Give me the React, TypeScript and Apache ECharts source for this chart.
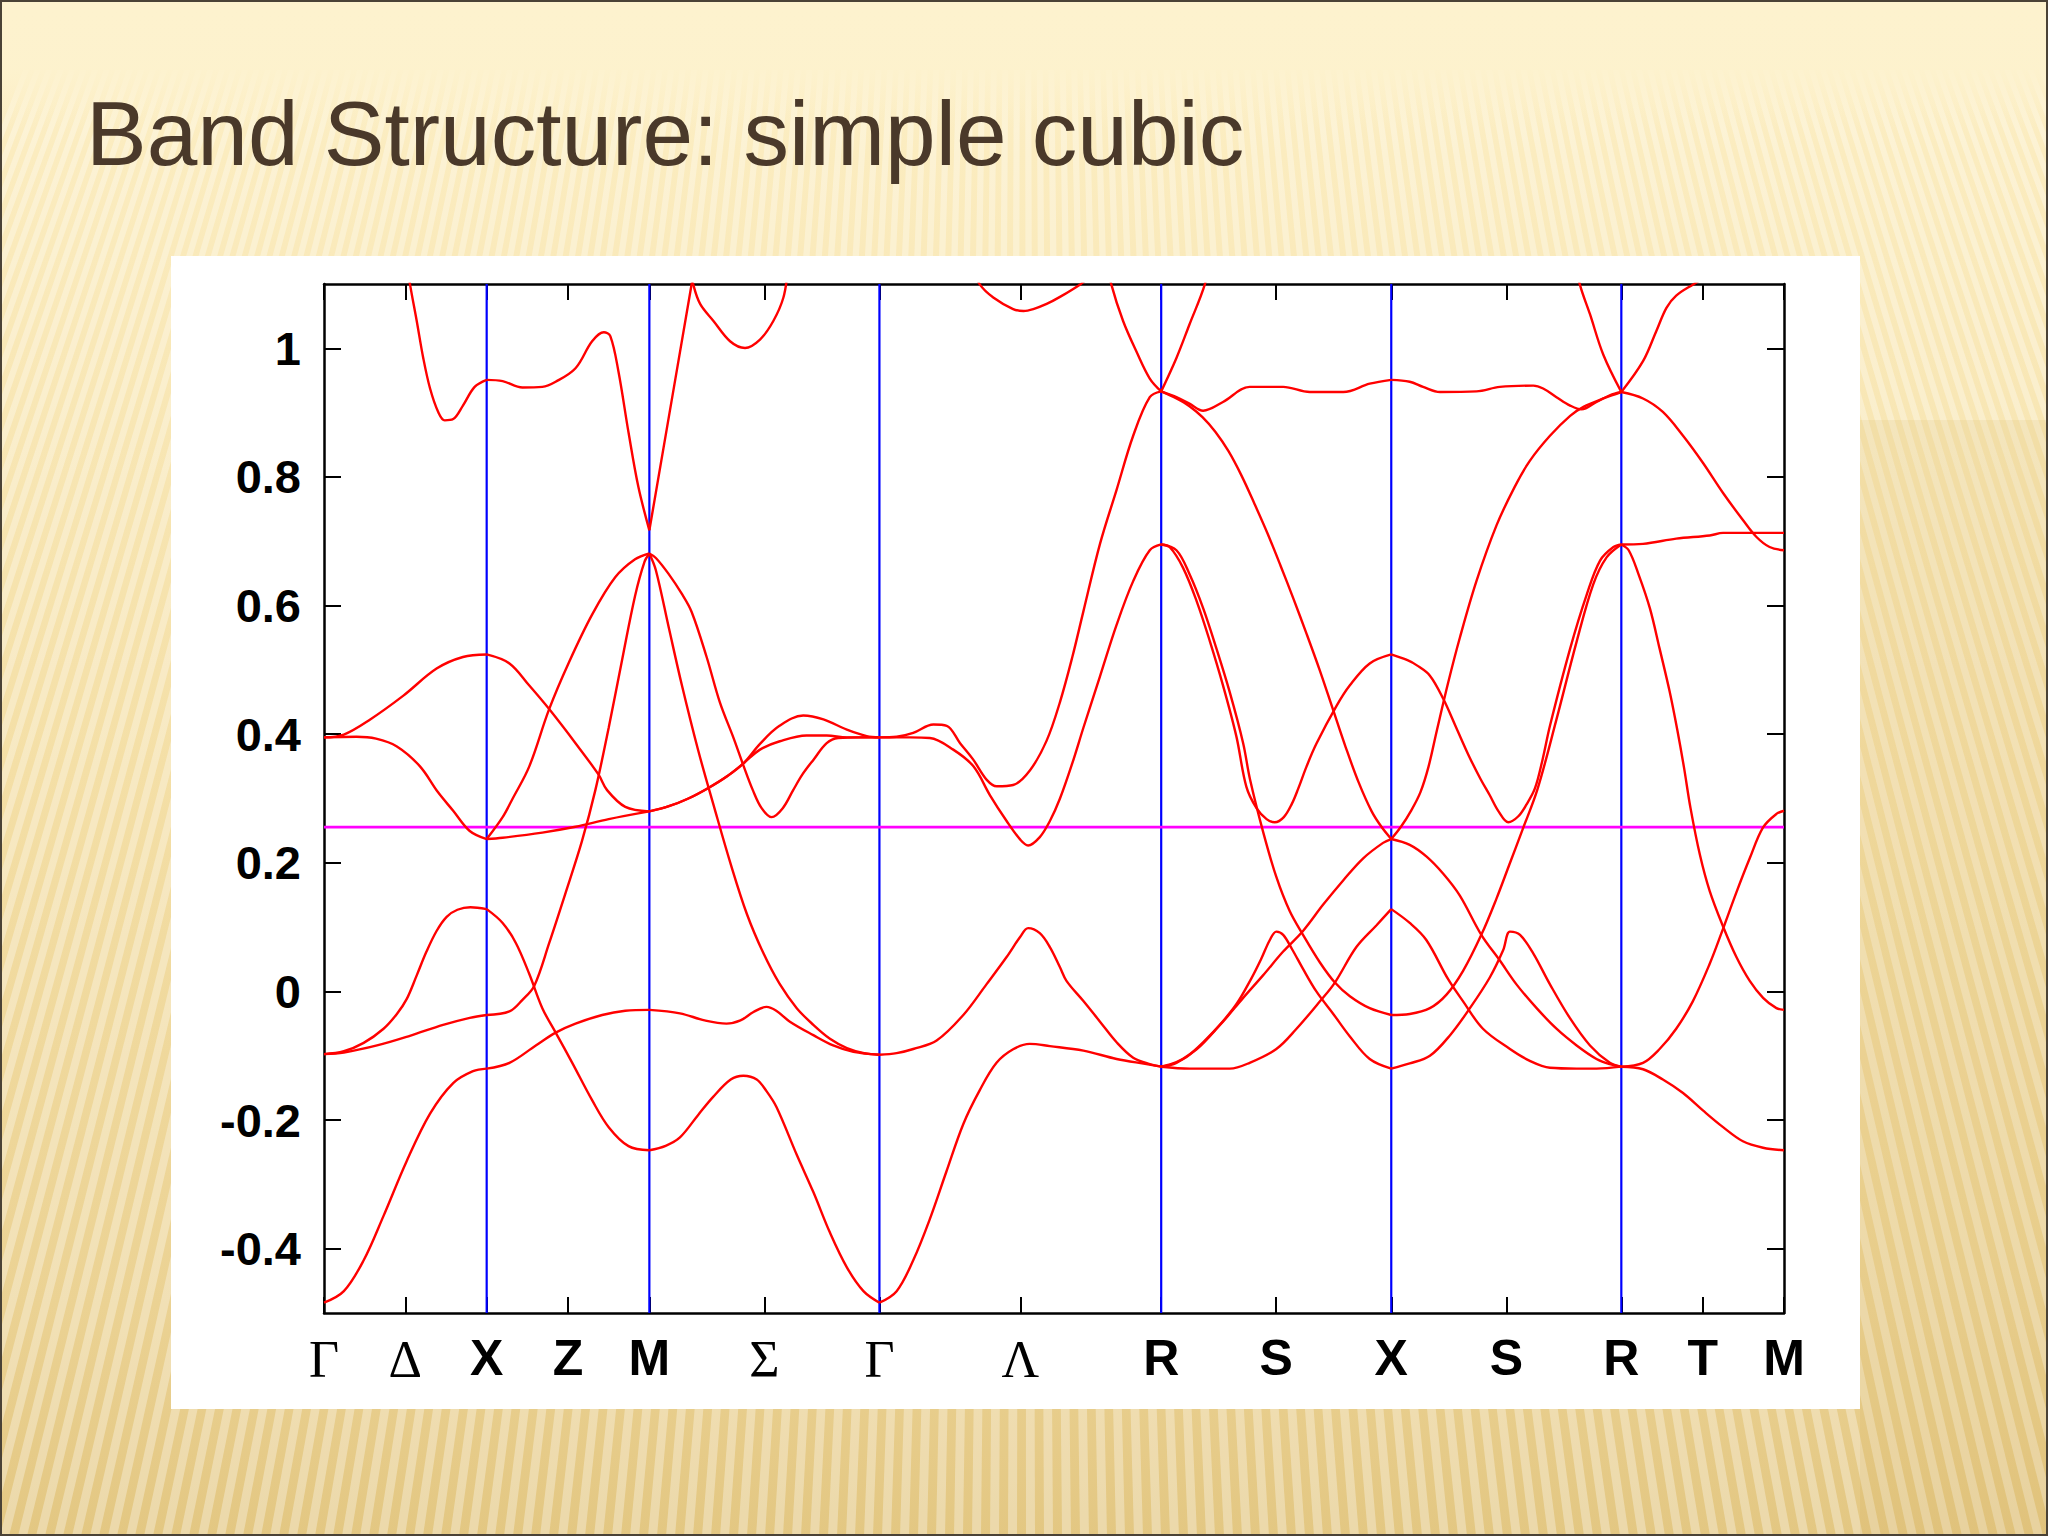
import React, { useEffect, useRef } from "react";
import * as echarts from "echarts";

// ---------- axis definitions ----------
const kMax = 4.4873;
const eMin = -0.5;
const eMax = 1.1;
const tickPositions = [0, 0.25, 0.5, 0.75, 1.0, 1.3536, 1.7071, 2.1401, 2.5731, 2.9267, 3.2802, 3.6338, 3.9873, 4.2373, 4.4873];
const tickLabels = ["Γ", "Δ", "X", "Z", "M", "Σ", "Γ", "Λ", "R", "S", "X", "S", "R", "T", "M"];
const greekLabels = ["Γ", "Δ", "Σ", "Λ"];
const symmetryLines = [0.5, 1.0, 1.7071, 2.5731, 3.2802, 3.9873];
const yTicks = [-0.4, -0.2, 0, 0.2, 0.4, 0.6, 0.8, 1];
const fermiLevel = 0.2555;
const titleText = "Band Structure: simple cubic";

// ---------- bands, segment by segment ----------
const bandsGammaX = [
  [[0, -0.484], [0.061, -0.466], [0.122, -0.418], [0.183, -0.349], [0.254, -0.264], [0.326, -0.19], [0.397, -0.1425], [0.458, -0.124], [0.5, -0.12]],
  [[0, -0.0975], [0.061, -0.095], [0.163, -0.084], [0.264, -0.069], [0.366, -0.052], [0.448, -0.041], [0.5, -0.0366]],
  [[0, -0.0975], [0.061, -0.093], [0.122, -0.08], [0.183, -0.058], [0.224, -0.035], [0.254, -0.012], [0.285, 0.025], [0.315, 0.062], [0.346, 0.094], [0.377, 0.116], [0.41, 0.127], [0.45, 0.131], [0.5, 0.128]],
  [[0, 0.395], [0.061, 0.3995], [0.142, 0.423], [0.244, 0.46], [0.346, 0.502], [0.427, 0.52], [0.5, 0.524]],
  [[0, 0.395], [0.1, 0.396], [0.16, 0.393], [0.224, 0.381], [0.295, 0.35], [0.35, 0.31], [0.397, 0.281], [0.448, 0.2495], [0.5, 0.237]],
  [[0.252, 1.14], [0.2645, 1.099], [0.285, 1.0425], [0.305, 0.985], [0.326, 0.9375], [0.351, 0.901], [0.371, 0.888], [0.397, 0.89], [0.427, 0.911], [0.463, 0.94], [0.5, 0.951]],
];

const bandsXM = [
  [[0.5, -0.12], [0.57, -0.111], [0.651, -0.084], [0.712, -0.064], [0.773, -0.05], [0.855, -0.0366], [0.926, -0.03], [1, -0.0286]],
  [[0.5, 0.128], [0.549, 0.1065], [0.59, 0.075], [0.631, 0.027], [0.671, -0.026], [0.712, -0.064], [0.763, -0.111], [0.824, -0.169], [0.875, -0.211], [0.936, -0.2405], [1, -0.247]],
  [[0.5, -0.0366], [0.57, -0.031], [0.61, -0.013], [0.646, 0.0085], [0.692, 0.075], [0.743, 0.154], [0.793, 0.234], [0.834, 0.313], [0.875, 0.41], [0.916, 0.515], [0.956, 0.615], [0.985, 0.668], [1, 0.681]],
  [[0.5, 0.237], [0.549, 0.271], [0.58, 0.3], [0.631, 0.35], [0.692, 0.439], [0.753, 0.512], [0.824, 0.586], [0.895, 0.644], [0.956, 0.672], [1, 0.681]],
  [[0.5, 0.524], [0.57, 0.51], [0.631, 0.4756], [0.692, 0.439], [0.773, 0.386], [0.844, 0.337], [0.87, 0.313], [0.926, 0.287], [1, 0.28]],
  [[0.5, 0.237], [0.549, 0.239], [0.671, 0.247], [0.773, 0.256], [0.875, 0.268], [1, 0.28]],
  [[0.5, 0.951], [0.549, 0.949], [0.61, 0.939], [0.671, 0.94], [0.712, 0.948], [0.773, 0.969], [0.824, 1.011], [0.86, 1.025], [0.88, 1.019], [0.905, 0.964], [0.936, 0.869], [0.966, 0.785], [1, 0.717]],
];

const bandsMGamma = [
  [[1, 0.717], [1.13, 1.1], [1.14, 1.13]],
  [[1.128, 1.12], [1.135, 1.099], [1.156, 1.069], [1.197, 1.0425], [1.248, 1.011], [1.294, 1.0005], [1.34, 1.0136], [1.381, 1.0425], [1.412, 1.079], [1.425, 1.12]],
  [[1, 0.681], [1.02, 0.674], [1.058, 0.65], [1.1, 0.618], [1.13, 0.59], [1.176, 0.52], [1.217, 0.449], [1.258, 0.395], [1.29, 0.35], [1.318, 0.313], [1.345, 0.285], [1.376, 0.271], [1.41, 0.285], [1.442, 0.313], [1.47, 0.337], [1.504, 0.36], [1.545, 0.386], [1.58, 0.394], [1.65, 0.395], [1.7071, 0.395]],
  [[1, 0.681], [1.02, 0.655], [1.06, 0.565], [1.1, 0.476], [1.15, 0.375], [1.2, 0.285], [1.25, 0.198], [1.3, 0.12], [1.35, 0.06], [1.4, 0.012], [1.453, -0.026], [1.504, -0.052], [1.555, -0.0736], [1.607, -0.088], [1.66, -0.096], [1.7071, -0.0985]],
  [[1, 0.28], [1.06, 0.288], [1.12, 0.3], [1.18, 0.316], [1.24, 0.335], [1.29, 0.355], [1.34, 0.385], [1.4, 0.413], [1.473, 0.429], [1.535, 0.423], [1.607, 0.407], [1.668, 0.397], [1.7071, 0.395]],
  [[1, 0.28], [1.06, 0.288], [1.12, 0.3], [1.18, 0.316], [1.24, 0.335], [1.29, 0.355], [1.34, 0.376], [1.401, 0.389], [1.483, 0.398], [1.545, 0.398], [1.607, 0.395], [1.7071, 0.395]],
  [[1, -0.0286], [1.094, -0.034], [1.17, -0.045], [1.237, -0.05], [1.28, -0.045], [1.32, -0.032], [1.36, -0.024], [1.39, -0.03], [1.432, -0.047], [1.504, -0.068], [1.565, -0.084], [1.627, -0.094], [1.7071, -0.0985]],
  [[1, -0.247], [1.05, -0.24], [1.094, -0.227], [1.15, -0.192], [1.196, -0.164], [1.25, -0.137], [1.289, -0.131], [1.33, -0.137], [1.36, -0.155], [1.391, -0.18], [1.453, -0.254], [1.504, -0.312], [1.555, -0.375], [1.607, -0.429], [1.658, -0.466], [1.7071, -0.484]],
];

const bandsGammaR = [
  [[1.7071, -0.484], [1.76, -0.466], [1.811, -0.418], [1.862, -0.354], [1.913, -0.28], [1.965, -0.206], [2.016, -0.153], [2.067, -0.111], [2.118, -0.09], [2.169, -0.0816], [2.231, -0.085], [2.334, -0.092], [2.436, -0.105], [2.528, -0.113], [2.5731, -0.117]],
  [[1.7071, -0.0985], [1.76, -0.096], [1.811, -0.0895], [1.883, -0.0763], [1.965, -0.0366], [2.036, 0.011], [2.098, 0.0535], [2.14, 0.085], [2.164, 0.0985], [2.2, 0.0906], [2.231, 0.069], [2.262, 0.0376], [2.282, 0.0164], [2.334, -0.015], [2.385, -0.047], [2.436, -0.079], [2.487, -0.103], [2.538, -0.113], [2.5731, -0.117]],
  [[1.7071, 0.395], [1.76, 0.396], [1.811, 0.402], [1.873, 0.415], [1.914, 0.413], [1.955, 0.386], [1.996, 0.36], [2.037, 0.329], [2.068, 0.319], [2.118, 0.321], [2.17, 0.344], [2.221, 0.39], [2.262, 0.45], [2.3, 0.52], [2.334, 0.591], [2.385, 0.696], [2.436, 0.78], [2.487, 0.864], [2.538, 0.924], [2.5731, 0.933]],
  [[1.7071, 0.395], [1.8, 0.395], [1.862, 0.394], [1.934, 0.376], [1.996, 0.35], [2.047, 0.305], [2.098, 0.265], [2.14, 0.236], [2.164, 0.227], [2.2, 0.24], [2.231, 0.265], [2.262, 0.3], [2.3, 0.355], [2.334, 0.41], [2.385, 0.49], [2.436, 0.57], [2.487, 0.638], [2.538, 0.686], [2.5731, 0.695]],
  [[2.0, 1.12], [2.016, 1.099], [2.057, 1.079], [2.118, 1.061], [2.15, 1.058], [2.18, 1.061], [2.221, 1.069], [2.262, 1.08], [2.323, 1.099], [2.35, 1.11]],
  [[2.41, 1.13], [2.42, 1.099], [2.456, 1.0425], [2.497, 0.995], [2.538, 0.953], [2.5731, 0.933]],
];

const bandsRX = [
  [[2.5731, 0.933], [2.62, 0.985], [2.66, 1.037], [2.707, 1.099], [2.717, 1.13]],
  [[2.5731, 0.933], [2.62, 0.924], [2.66, 0.914], [2.702, 0.903], [2.763, 0.9165], [2.845, 0.94], [2.948, 0.94], [3.03, 0.932], [3.133, 0.932], [3.214, 0.945], [3.2802, 0.951]],
  [[2.5731, 0.933], [2.62, 0.922], [2.66, 0.91], [2.7, 0.893], [2.74, 0.87], [2.78, 0.84], [2.82, 0.802], [2.86, 0.758], [2.9, 0.712], [2.94, 0.662], [2.98, 0.61], [3.02, 0.556], [3.06, 0.5], [3.1, 0.44], [3.14, 0.38], [3.18, 0.325], [3.22, 0.28], [3.25, 0.256], [3.2802, 0.237]],
  [[2.5731, 0.695], [2.599, 0.691], [2.64, 0.659], [2.682, 0.607], [2.723, 0.544], [2.763, 0.476], [2.804, 0.397], [2.835, 0.318], [2.866, 0.285], [2.897, 0.268], [2.922, 0.263], [2.95, 0.271], [2.975, 0.292], [2.994, 0.315], [3.02, 0.35], [3.05, 0.385], [3.112, 0.444], [3.153, 0.476], [3.214, 0.51], [3.2802, 0.524]],
  [[2.5731, 0.695], [2.62, 0.686], [2.66, 0.649], [2.702, 0.596], [2.743, 0.533], [2.784, 0.465], [2.825, 0.386], [2.846, 0.33], [2.887, 0.247], [2.927, 0.178], [2.968, 0.125], [3.009, 0.088], [3.061, 0.045], [3.107, 0.0138], [3.153, -0.0074], [3.214, -0.026], [3.2802, -0.0366]],
  [[2.5731, -0.117], [2.62, -0.11], [2.66, -0.098], [2.702, -0.079], [2.763, -0.047], [2.825, -0.01], [2.886, 0.025], [2.948, 0.062], [3.009, 0.094], [3.071, 0.135], [3.133, 0.173], [3.194, 0.207], [3.255, 0.231], [3.2802, 0.237]],
  [[2.5731, -0.117], [2.62, -0.111], [2.682, -0.09], [2.743, -0.058], [2.804, -0.02], [2.85, 0.02], [2.88, 0.05], [2.907, 0.08], [2.927, 0.093], [2.948, 0.088], [2.975, 0.066], [3.009, 0.035], [3.05, 0.0], [3.102, -0.035], [3.153, -0.07], [3.214, -0.105], [3.2802, -0.12]],
  [[2.5731, -0.117], [2.661, -0.12], [2.784, -0.12], [2.845, -0.111], [2.927, -0.0895], [2.989, -0.058], [3.061, -0.0154], [3.107, 0.0138], [3.173, 0.069], [3.235, 0.103], [3.2802, 0.128]],
];

const bandsXR = [
  [[3.2802, 0.951], [3.337, 0.948], [3.378, 0.94], [3.43, 0.932], [3.542, 0.933], [3.614, 0.94], [3.717, 0.942], [3.747, 0.9375], [3.788, 0.924], [3.83, 0.911], [3.865, 0.905], [3.911, 0.9165], [3.952, 0.927], [3.9873, 0.932]],
  [[3.85, 1.13], [3.86, 1.099], [3.891, 1.053], [3.932, 0.99], [3.9873, 0.932]],
  [[3.2802, 0.237], [3.31, 0.256], [3.34, 0.28], [3.37, 0.31], [3.395, 0.35], [3.42, 0.405], [3.455, 0.48], [3.491, 0.55], [3.542, 0.638], [3.604, 0.725], [3.66, 0.785], [3.706, 0.825], [3.768, 0.864], [3.83, 0.895], [3.871, 0.909], [3.932, 0.922], [3.9873, 0.932]],
  [[3.2802, 0.524], [3.33, 0.515], [3.359, 0.507], [3.399, 0.491], [3.44, 0.455], [3.48, 0.41], [3.52, 0.365], [3.555, 0.33], [3.583, 0.305], [3.61, 0.28], [3.64, 0.263], [3.67, 0.272], [3.695, 0.29], [3.722, 0.316], [3.745, 0.36], [3.768, 0.413], [3.83, 0.533], [3.881, 0.617], [3.922, 0.67], [3.963, 0.691], [3.9873, 0.695]],
  [[3.2802, -0.0366], [3.337, -0.035], [3.399, -0.026], [3.45, -0.005], [3.501, 0.032], [3.557, 0.088], [3.603, 0.1436], [3.643, 0.197], [3.684, 0.252], [3.73, 0.315], [3.788, 0.423], [3.85, 0.544], [3.901, 0.633], [3.942, 0.675], [3.9873, 0.695]],
  [[3.2802, 0.237], [3.337, 0.228], [3.388, 0.21], [3.44, 0.183], [3.491, 0.149], [3.557, 0.088], [3.614, 0.048], [3.665, 0.011], [3.727, -0.026], [3.788, -0.058], [3.85, -0.084], [3.911, -0.105], [3.952, -0.113], [3.9873, -0.117]],
  [[3.2802, 0.128], [3.337, 0.1065], [3.388, 0.08], [3.455, 0.019], [3.501, -0.0154], [3.562, -0.058], [3.645, -0.0895], [3.706, -0.108], [3.768, -0.1187], [3.85, -0.12], [3.911, -0.12], [3.9873, -0.117]],
  [[3.2802, -0.12], [3.337, -0.112], [3.399, -0.1], [3.461, -0.068], [3.522, -0.026], [3.583, 0.0217], [3.624, 0.064], [3.645, 0.093], [3.676, 0.088], [3.717, 0.0588], [3.768, 0.011], [3.83, -0.042], [3.891, -0.084], [3.952, -0.111], [3.9873, -0.117]],
];

const bandsRM = [
  [[3.9873, 0.932], [4.054, 0.98], [4.095, 1.027], [4.126, 1.063], [4.156, 1.082], [4.207, 1.099], [4.26, 1.115]],
  [[3.9873, 0.932], [4.054, 0.922], [4.115, 0.901], [4.177, 0.864], [4.238, 0.822], [4.3, 0.775], [4.361, 0.733], [4.402, 0.707], [4.443, 0.691], [4.4873, 0.686]],
  [[3.9873, 0.695], [4.054, 0.696], [4.156, 0.704], [4.259, 0.709], [4.3, 0.713], [4.4873, 0.713]],
  [[3.9873, 0.695], [4.01, 0.686], [4.04, 0.649], [4.075, 0.596], [4.105, 0.533], [4.136, 0.466], [4.16, 0.405], [4.18, 0.348], [4.2, 0.285], [4.229, 0.212], [4.259, 0.156], [4.3, 0.101], [4.341, 0.0535], [4.382, 0.0164], [4.423, -0.01], [4.464, -0.026], [4.4873, -0.0286]],
  [[3.9873, -0.117], [4.054, -0.111], [4.105, -0.0895], [4.156, -0.058], [4.207, -0.0154], [4.259, 0.043], [4.295, 0.0906], [4.341, 0.154], [4.382, 0.207], [4.423, 0.255], [4.464, 0.276], [4.4873, 0.281]],
  [[3.9873, -0.117], [4.054, -0.121], [4.115, -0.137], [4.177, -0.158], [4.238, -0.185], [4.3, -0.211], [4.361, -0.233], [4.423, -0.243], [4.4873, -0.247]],
];

const allBands = [
  ...bandsGammaX, ...bandsXM, ...bandsMGamma, ...bandsGammaR, ...bandsRX, ...bandsXR, ...bandsRM,
];

const SANS = '"Liberation Sans", Arial, Helvetica, sans-serif';
const SERIF = '"Liberation Serif", "DejaVu Serif", "Times New Roman", serif';

function buildBackground() {
  const els: any[] = [];
  // stripes fanning out
  for (let i = -30; i < 150; i++) {
    const xb = i * 18;
    const xt = 1024 + (xb - 1024) * 0.64;
    els.push({
      type: "polygon",
      silent: true,
      z: -9,
      shape: { points: [[xt, 70], [xt + 6, 70], [xb + 9, 1536], [xb, 1536]] },
      style: { fill: "rgba(255,255,255,0.32)" },
    });
  }
  // light top band
  els.push({
    type: "rect",
    silent: true,
    z: -8,
    shape: { x: 0, y: 0, width: 2048, height: 130 },
    style: {
      fill: new echarts.graphic.LinearGradient(0, 0, 0, 1, [
        { offset: 0, color: "rgba(253,242,206,1)" },
        { offset: 0.55, color: "rgba(253,242,206,0.9)" },
        { offset: 1, color: "rgba(253,242,206,0)" },
      ]),
    },
  });
  // darker right-lower region
  els.push({
    type: "rect",
    silent: true,
    z: -8,
    shape: { x: 1860, y: 420, width: 188, height: 1116 },
    style: { fill: "rgba(205,165,70,0.12)" },
  });
  // white chart panel
  els.push({
    type: "rect",
    silent: true,
    z: -7,
    shape: { x: 171, y: 256, width: 1689, height: 1153 },
    style: { fill: "#ffffff" },
  });
  // frame around the slide
  els.push({
    type: "rect",
    silent: true,
    z: -6,
    shape: { x: 1, y: 1, width: 2046, height: 1534 },
    style: { fill: "none", stroke: "#4a4236", lineWidth: 2 },
  });
  // title
  els.push({
    type: "text",
    silent: true,
    z: 5,
    x: 86,
    y: 133,
    style: {
      text: titleText,
      font: `normal 91px ${SANS}`,
      fill: "#4a392a",
      align: "left",
      verticalAlign: "middle",
      textAlign: "left",
      textVerticalAlign: "middle",
    },
  });
  return els;
}

function xLabelFormatter(v: number) {
  const i = tickPositions.findIndex((t) => Math.abs(t - v) < 1e-4);
  if (i < 0) return "";
  const lab = tickLabels[i];
  return greekLabels.includes(lab) ? `{g|${lab}}` : `{l|${lab}}`;
}

function yLabelFormatter(v: number) {
  return String(Math.round(v * 10) / 10);
}

export default function App() {
  const ref = useRef<HTMLDivElement>(null);

  useEffect(() => {
    document.body.style.margin = "0";
    document.body.style.overflow = "hidden";
    if (!ref.current) return;
    const chart = echarts.init(ref.current, undefined, { renderer: "svg" });

    const axisLineStyle = { color: "#000", width: 2.5 };
    const tickStyle = { color: "#000", width: 2 };

    const bandSeries = allBands.map((band, i) => ({
      type: "line",
      name: "band" + i,
      data: band,
      xAxisIndex: 0,
      yAxisIndex: 0,
      showSymbol: false,
      symbol: "none",
      smooth: 0.35,
      clip: true,
      silent: true,
      z: 4,
      lineStyle: { color: "#ff0000", width: 2.4 },
    }));

    const symSeries = symmetryLines.map((k, i) => ({
      type: "line",
      name: "sym" + i,
      data: [[k, eMin], [k, eMax]],
      showSymbol: false,
      symbol: "none",
      silent: true,
      z: 2,
      lineStyle: { color: "#0000ff", width: 2.2 },
    }));

    const fermiSeries = {
      type: "line",
      name: "fermi",
      data: [[0, fermiLevel], [kMax, fermiLevel]],
      showSymbol: false,
      symbol: "none",
      silent: true,
      z: 3,
      lineStyle: { color: "#ff00ff", width: 2.8 },
    };

    const option: any = {
      animation: false,
      backgroundColor: new echarts.graphic.LinearGradient(0, 0, 0, 1, [
        { offset: 0, color: "#fdf1cc" },
        { offset: 0.1, color: "#fbecbf" },
        { offset: 0.5, color: "#f4dfa6" },
        { offset: 0.85, color: "#ebd293" },
        { offset: 1, color: "#e3c782" },
      ]),
      graphic: { elements: buildBackground() },
      grid: {
        left: 324,
        top: 284,
        width: 1460,
        height: 1029,
        containLabel: false,
        outerBoundsMode: "none",
        show: false,
      },
      xAxis: [
        {
          type: "value",
          min: 0,
          max: kMax,
          position: "bottom",
          axisLine: { show: true, onZero: false, lineStyle: axisLineStyle },
          splitLine: { show: false },
          axisTick: { show: true, inside: true, length: 16, customValues: tickPositions, lineStyle: tickStyle },
          axisLabel: {
            show: true,
            customValues: tickPositions,
            showMinLabel: true,
            showMaxLabel: true,
            hideOverlap: false,
            margin: 20,
            formatter: xLabelFormatter,
            color: "#000",
            fontSize: 50,
            fontFamily: SANS,
            rich: {
              g: { fontFamily: SERIF, fontSize: 52, color: "#000" },
              l: { fontFamily: SANS, fontSize: 50, fontWeight: "bold", color: "#000" },
            },
          },
        },
        {
          type: "value",
          min: 0,
          max: kMax,
          position: "top",
          axisLine: { show: true, onZero: false, lineStyle: axisLineStyle },
          splitLine: { show: false },
          axisTick: { show: true, inside: true, length: 16, customValues: tickPositions, lineStyle: tickStyle },
          axisLabel: { show: false },
        },
      ],
      yAxis: [
        {
          type: "value",
          min: eMin,
          max: eMax,
          position: "left",
          axisLine: { show: true, onZero: false, lineStyle: axisLineStyle },
          splitLine: { show: false },
          axisTick: { show: true, inside: true, length: 17, customValues: yTicks, lineStyle: tickStyle },
          axisLabel: {
            show: true,
            customValues: yTicks,
            margin: 23,
            formatter: yLabelFormatter,
            color: "#000",
            fontSize: 47,
            fontWeight: "bold",
            fontFamily: SANS,
          },
        },
        {
          type: "value",
          min: eMin,
          max: eMax,
          position: "right",
          axisLine: { show: true, onZero: false, lineStyle: axisLineStyle },
          splitLine: { show: false },
          axisTick: { show: true, inside: true, length: 17, customValues: yTicks, lineStyle: tickStyle },
          axisLabel: { show: false },
        },
      ],
      series: [...symSeries, fermiSeries, ...bandSeries],
    };

    chart.setOption(option);
    return () => {
      chart.dispose();
    };
  }, []);

  return (
    <div
      ref={ref}
      style={{ position: "absolute", left: 0, top: 0, width: 2048, height: 1536 }}
    />
  );
}
